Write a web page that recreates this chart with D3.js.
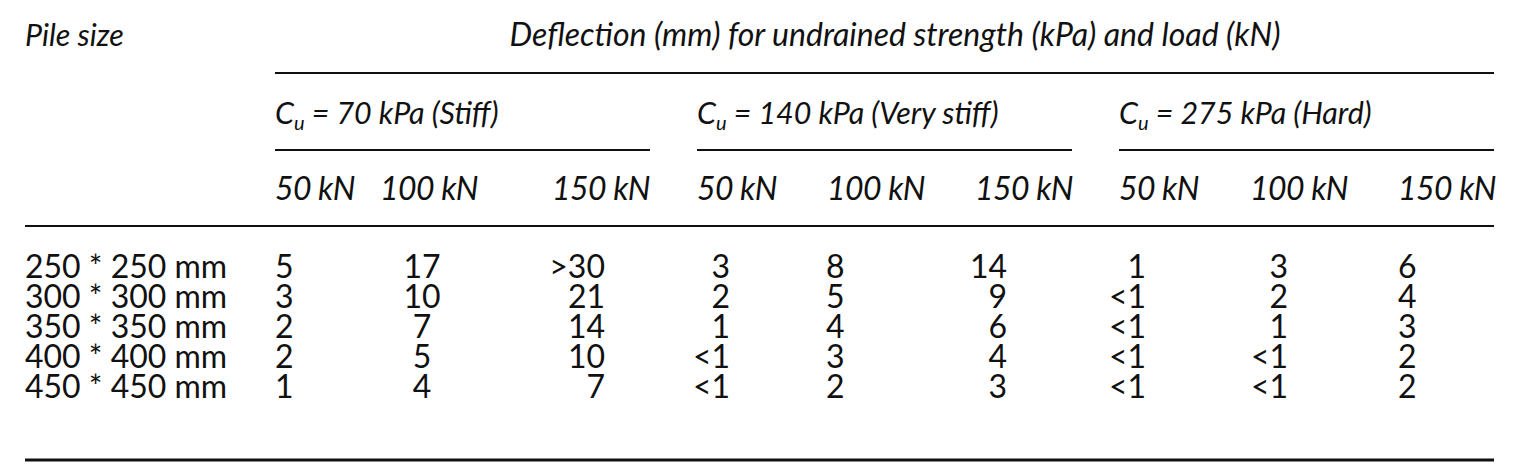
<!DOCTYPE html><html><head><meta charset="utf-8"><script src="https://cdn.jsdelivr.net/npm/d3@7"></script>
<style>body{margin:0;background:#fff}text{font-family:Lato,"Open Sans",sans-serif;fill:#111}</style></head><body><svg id="c" width="1520" height="466"></svg>
<script>
const title = "Deflection (mm) for undrained strength (kPa) and load (kN)";
const rowHeader = "Pile size";
const groups = [{v:"70 kPa (Stiff)"},{v:"140 kPa (Very stiff)"},{v:"275 kPa (Hard)"}];
const loads = ["50 kN","100 kN","150 kN"];
const piles = ["250 * 250 mm","300 * 300 mm","350 * 350 mm","400 * 400 mm","450 * 450 mm"];
const values = [
 ["5","17",">30","3","8","14","1","3","6"],
 ["3","10","21","2","5","9","<1","2","4"],
 ["2","7","14","1","4","6","<1","1","3"],
 ["2","5","10","<1","3","4","<1","<1","2"],
 ["1","4","7","<1","2","3","<1","<1","2"]
];
const svg = d3.select("#c");
const fs = 32;
const headX = [275,380,552,697,827,975,1119,1250,1398];
const cellX = [275,422,605,730,826,1007,1146,1288,1398];
const cellA = ["start","middle","end","end","start","end","end","end","start"];
const groupX = [275,697,1119];
svg.append("text").attr("x",25).attr("y",46).attr("font-size",fs*0.95).attr("font-style","italic").text(rowHeader);
svg.append("text").attr("x",895).attr("y",46).attr("font-size",fs).attr("font-style","italic").attr("text-anchor","middle").text(title);
const line=(x1,x2,yy,w)=>svg.append("line").attr("x1",x1).attr("x2",x2).attr("y1",yy).attr("y2",yy).attr("stroke","#111").attr("stroke-width",w);
line(275,1494,73,2);
groups.forEach((g,i)=>{
  const t=svg.append("text").attr("x",groupX[i]).attr("y",124).attr("font-size",fs*0.95).attr("font-style","italic");
  t.append("tspan").text("C");
  t.append("tspan").attr("font-size",20).attr("dy",6).text("u");
  t.append("tspan").attr("dy",-6).text(" = "+g.v);
  line(groupX[i],groupX[i]+375,150,2);
});
headX.forEach((hx,i)=>svg.append("text").attr("x",hx).attr("y",200).attr("font-size",fs).attr("font-style","italic").attr("letter-spacing",-0.5).text(loads[i%3]));
line(25,1494,226,2);
piles.forEach((p,r)=>{
  const yy=278+r*30;
  svg.append("text").attr("x",25).attr("y",yy).attr("font-size",fs).text(p);
  values[r].forEach((v,c)=>svg.append("text").attr("x",cellX[c]).attr("y",yy).attr("font-size",fs).attr("text-anchor",cellA[c]).text(v));
});
line(25,1494,460,3);
</script></body></html>
